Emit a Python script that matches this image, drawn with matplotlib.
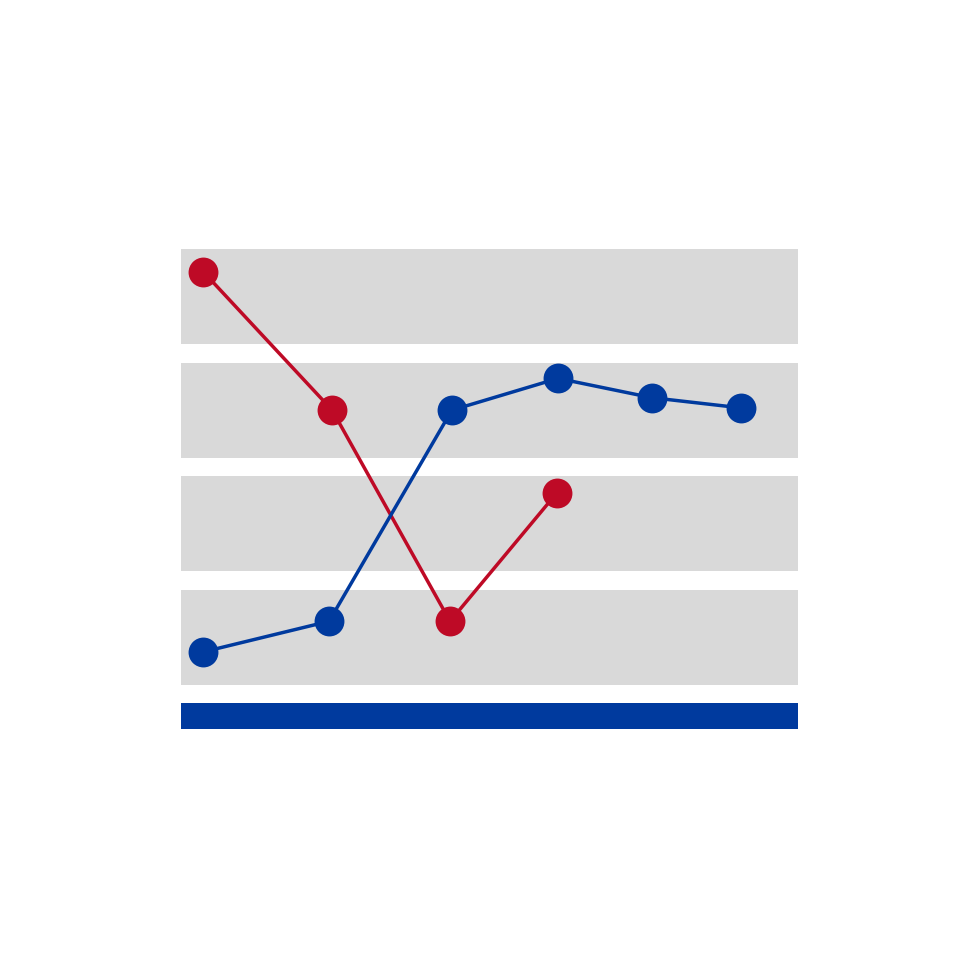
import matplotlib
matplotlib.use("Agg")
import matplotlib.pyplot as plt

# Series values (x across the panel 0..10, y in band units above the base bar)
red_x = [0.36, 2.45, 4.36, 6.09]
red_y = [3.80, 2.58, 0.72, 1.85]
blue_x = [0.36, 2.40, 4.39, 6.11, 7.63, 9.08]
blue_y = [0.45, 0.72, 2.58, 2.86, 2.69, 2.60]

# Background bands
band_bottoms = [0, 1, 2, 3]
unit = 113.5
band_gap = 18.5 / unit
bar_depth = 26 / unit

RED = "#BE0A26"
BLUE = "#003A9E"
GRAY = "#D9D9D9"

fig = plt.figure(figsize=(9.8, 9.8), dpi=100)
fig.patch.set_facecolor("white")
ax = fig.add_axes([181 / 980, (980 - 729) / 980, 617 / 980, 480 / 980])
ax.set_xlim(0, 10)
ax.set_ylim(-bar_depth, 4)

# gray bands
for b in band_bottoms:
    ax.axhspan(b + band_gap, b + 1, color=GRAY, lw=0, zorder=0)

# blue base bar
ax.axhspan(-bar_depth, 0, color=BLUE, lw=0, zorder=0)

ax.plot(red_x, red_y, color=RED, lw=2.5, marker="o", markersize=21.5,
        markeredgewidth=0, zorder=3)
ax.plot(blue_x, blue_y, color=BLUE, lw=2.5, marker="o", markersize=21.5,
        markeredgewidth=0, zorder=3)

ax.axis("off")
fig.savefig("out.png", dpi=100, facecolor="white")
